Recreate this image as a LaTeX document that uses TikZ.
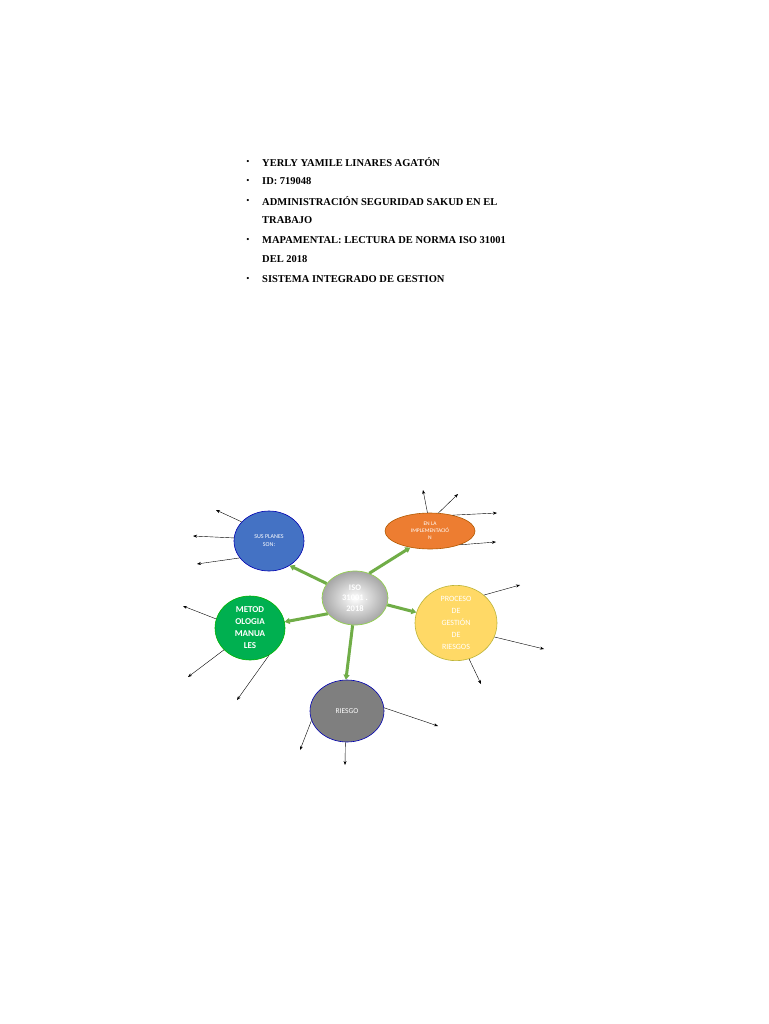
\documentclass[tikz,border=0pt]{standalone}
\usepackage{fontspec}
\setmainfont{Liberation Serif}
\setsansfont{Carlito}
\begin{document}
\begin{tikzpicture}[x=1pt,y=-1pt,
  bul/.style={anchor=west,font=\fontsize{10.5}{12}\selectfont\bfseries,inner sep=0},
  ell/.style={ellipse,draw=#1!70!black,line width=0.6pt,inner sep=0,align=center,font=\sffamily},
  green/.style={-{Triangle[length=5pt,width=6pt]},line width=3pt,draw=green!55!black!60!lime,color={rgb,255:red,112;green,173;blue,71}},
  thin/.style={-{Stealth[length=4pt,width=3pt]},line width=0.4pt,black}]
\usetikzlibrary{shapes.geometric,arrows.meta}
\useasboundingbox (0,0) rectangle (768,1024);
\fill[white] (0,0) rectangle (768,1024);
\foreach \y/\t [count=\i] in {162/YERLY YAMILE LINARES AGATÓN,181/ID: 719048,201/ADMINISTRACIÓN SEGURIDAD SAKUD EN EL,240/MAPAMENTAL: LECTURA DE NORMA ISO 31001,279/SISTEMA INTEGRADO DE GESTION}{
  \node[bul] (b\i) at (262,\y) {\t};
  \node[anchor=center,inner sep=0,font=\small] (d\i) at (248,\y) {•};}
\node[bul] (t1) at (262,220) {TRABAJO};
\node[bul] (t2) at (262,259) {DEL 2018};
% ellipses
\node[ell=blue,fill={rgb,255:red,68;green,114;blue,196},minimum width=70,minimum height=60,text=white,font=\sffamily\fontsize{6}{8}\selectfont] (sus) at (269,541) {SUS PLANES\\SON:};
\node[ell=orange,fill={rgb,255:red,237;green,125;blue,49},minimum width=90,minimum height=36,text=white,font=\sffamily\fontsize{5.5}{7}\selectfont] (imp) at (430,531) {EN LA\\IMPLEMENTACIÓ\\N};
\node[ellipse,draw={rgb,255:red,146;green,208;blue,80},line width=0.7pt,inner sep=0,align=center,inner color=white,outer color=gray!70,minimum width=66,minimum height=54,text=white,font=\sffamily\bfseries\fontsize{8.5}{10.5}\selectfont] (iso) at (355,598) {ISO\\31001 .\\2018};
\node[ell=yellow,fill={rgb,255:red,255;green,217;blue,102},minimum width=82,minimum height=70,text=white,font=\sffamily\fontsize{8}{12}\selectfont] (pro) at (456,623) {PROCESO\\DE\\GESTIÓN\\DE\\RIESGOS};
\node[ell=green,fill={rgb,255:red,0;green,176;blue,80},minimum width=70,minimum height=64,text=white,font=\sffamily\bfseries\fontsize{9}{12}\selectfont] (met) at (250,628) {METOD\\OLOGIA\\MANUA\\LES};
\node[ell=blue,fill={rgb,255:red,127;green,127;blue,127},minimum width=74,minimum height=62,text=white,font=\sffamily\fontsize{7.5}{9}\selectfont] (rie) at (347,711) {RIESGO};
% green arrows
\draw[green] (iso.153) -- (sus.-50);
\draw[green] (iso.60) -- (imp.-140);
\draw[green] (iso.-12) -- (pro.165);
\draw[green] (iso.-150) -- (met.10);
\draw[green] (iso.-95) -- (rie.92);
% thin arrows
\coordinate (s1) at (216,510); \coordinate (s2) at (193,536); \coordinate (s3) at (197,564);
\draw[thin] (sus.145) -- (s1); \draw[thin] (sus.175) -- (s2); \draw[thin] (sus.210) -- (s3);
\coordinate (i1) at (423,490); \coordinate (i2) at (458,494); \coordinate (i3) at (497,513); \coordinate (i4) at (496,542);
\draw[thin] (imp.98) -- (i1); \draw[thin] (imp.65) -- (i2); \draw[thin] (imp.35) -- (i3); \draw[thin] (imp.-25) -- (i4);
\coordinate (p1) at (520,585); \coordinate (p2) at (544,649); \coordinate (p3) at (481,684);
\draw[thin] (pro.45) -- (p1); \draw[thin] (pro.-20) -- (p2); \draw[thin] (pro.-70) -- (p3);
\coordinate (m1) at (183,606); \coordinate (m2) at (188,677); \coordinate (m3) at (237,700);
\draw[thin] (met.165) -- (m1); \draw[thin] (met.-140) -- (m2); \draw[thin] (met.-55) -- (m3);
\coordinate (r1) at (438,726); \coordinate (r2) at (300,750); \coordinate (r3) at (345,765);
\draw[thin] (rie.5) -- (r1); \draw[thin] (rie.195) -- (r2); \draw[thin] (rie.-93) -- (r3);
\end{tikzpicture}
\end{document}
